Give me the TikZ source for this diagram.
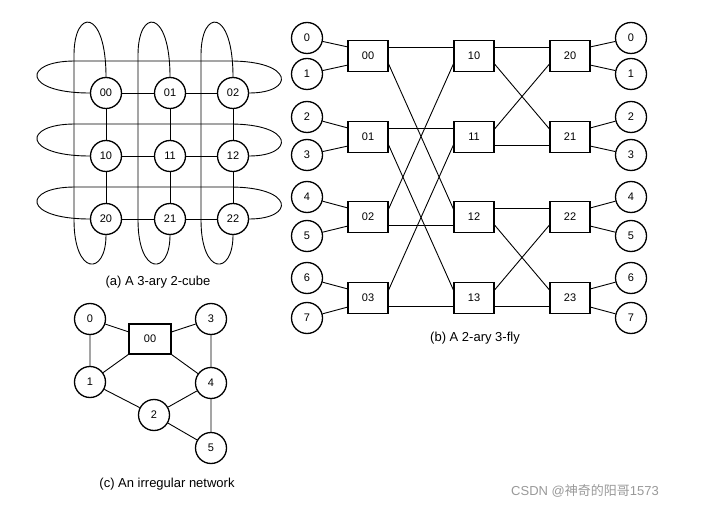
\documentclass[tikz,border=0pt]{standalone}
\usepackage{fontspec}
\setmainfont{Liberation Sans}
\newfontfamily\cjk{Noto Sans CJK SC}
\begin{document}
\begin{tikzpicture}[x=1pt,y=-1pt,
  nd/.style={circle,draw,line width=1.3pt,minimum size=31pt,inner sep=0pt,font=\fontsize{11}{13}\selectfont},
  bx/.style={rectangle,draw,line width=1.3pt,minimum width=40pt,minimum height=31pt,inner sep=0pt,font=\fontsize{11}{13}\selectfont},
  ln/.style={line width=0.9pt},
  captxt/.style={font=\fontsize{13}{15}\selectfont}]
\useasboundingbox (0,0) rectangle (703,510);
% (a) torus
\foreach \r/\y in {0/93,1/156,2/219}{
  \foreach \c/\x in {0/106,1/170,2/233}{
    \node[nd] (a\r\c) at (\x,\y) {\r\c};
  }
}
\foreach \r/\y in {0/93,1/156,2/219}{
  \draw[ln] (a\r0) -- (a\r1) (a\r1) -- (a\r2);
  \draw[ln] (a\r0.west) .. controls (22,\y) and (22,\y-32) .. (75,\y-32) -- (230,\y-32) .. controls (295,\y-32) and (295,\y) .. (a\r2.east);
}
\foreach \c/\x in {0/106,1/170,2/233}{
  \draw[ln] (a0\c) -- (a1\c) (a1\c) -- (a2\c);
  \draw[ln] (a0\c.north) .. controls (\x,8) and (\x-32,8) .. (\x-32,55) -- (\x-32,220) .. controls (\x-32,276) and (\x,276) .. (a2\c.south);
}
\node[captxt] (capa) at (158,282) {(a) A 3-ary 2-cube};
% (b) butterfly
\foreach \i/\y in {0/38,1/74,2/117,3/155,4/197,5/236,6/278,7/318}{
  \node[nd] (L\i) at (307,\y) {\i};
  \node[nd] (R\i) at (631,\y) {\i};
}
\foreach \j/\y in {0/56,1/137,2/217,3/298}{
  \node[bx] (b0\j) at (368,\y) {0\j};
  \node[bx] (b1\j) at (474,\y) {1\j};
  \node[bx] (b2\j) at (570,\y) {2\j};
}
\foreach \j/\a/\b in {0/0/1,1/2/3,2/4/5,3/6/7}{
  \draw[ln] (L\a) -- ([yshift=-7pt]b0\j.north west);
  \draw[ln] (L\b) -- ([yshift=7pt]b0\j.south west);
  \draw[ln] (R\a) -- ([yshift=-7pt]b2\j.north east);
  \draw[ln] (R\b) -- ([yshift=7pt]b2\j.south east);
}
\def\T#1#2{([yshift=-8pt]#1.north #2)}
\def\B#1#2{([yshift=8pt]#1.south #2)}
\draw[ln] \T{b00}{east} -- \T{b10}{west};
\draw[ln] \B{b00}{east} -- \T{b12}{west};
\draw[ln] \T{b01}{east} -- \T{b11}{west};
\draw[ln] \B{b01}{east} -- \T{b13}{west};
\draw[ln] \T{b02}{east} -- \B{b10}{west};
\draw[ln] \B{b02}{east} -- \B{b12}{west};
\draw[ln] \T{b03}{east} -- \B{b11}{west};
\draw[ln] \B{b03}{east} -- \B{b13}{west};
\draw[ln] \T{b10}{east} -- \T{b20}{west};
\draw[ln] \B{b10}{east} -- \T{b21}{west};
\draw[ln] \T{b11}{east} -- \B{b20}{west};
\draw[ln] \B{b11}{east} -- \B{b21}{west};
\draw[ln] \T{b12}{east} -- \T{b22}{west};
\draw[ln] \B{b12}{east} -- \T{b23}{west};
\draw[ln] \T{b13}{east} -- \B{b22}{west};
\draw[ln] \B{b13}{east} -- \B{b23}{west};
\node[captxt] (capb) at (475,338) {(b) A 2-ary 3-fly};
% (c) irregular
\node[nd] (c0) at (90,319) {0};
\node[bx,minimum width=42pt,minimum height=30pt] (c00) at (150,339) {00};
\node[nd] (c3) at (211,319) {3};
\node[nd] (c1) at (90,382) {1};
\node[nd] (c4) at (211,383) {4};
\node[nd] (c2) at (154,415) {2};
\node[nd] (c5) at (211,448) {5};
\draw[ln] (c0) -- (c00) (c0) -- (c1) (c1) -- (c00) (c00) -- (c3) (c00) -- (c4)
  (c3) -- (c4) (c1) -- (c2) (c2) -- (c4) (c2) -- (c5) (c4) -- (c5);
\node[captxt] (capc) at (167,484) {(c) An irregular network};
\node[font=\fontsize{13}{15}\selectfont,text=gray!80] (wm) at (585,491) {CSDN @{\cjk 神奇的阳哥}1573};
\end{tikzpicture}
\end{document}
